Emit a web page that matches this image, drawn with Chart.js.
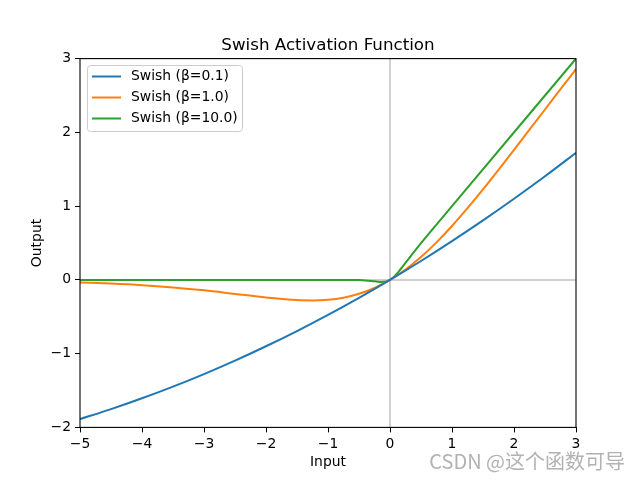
<!DOCTYPE html>
<html><head><meta charset="utf-8">
<script src="https://cdn.jsdelivr.net/npm/chart.js"></script>
<style>html,body{margin:0;padding:0;background:#fff}</style>
</head><body>
<canvas id="c" width="640" height="480"></canvas>
<script>
const chartTitle = 'Swish Activation Function';
const xLabel = 'Input';
const yLabel = 'Output';
const seriesLabels = ['Swish (\u03b2=0.1)', 'Swish (\u03b2=1.0)', 'Swish (\u03b2=10.0)'];
const xTicks = [-5, -4, -3, -2, -1, 0, 1, 2, 3];
const yTicks = [-2, -1, 0, 1, 2, 3];

const xBeta01 = [-5, -4.5, -4, -3.5, -3, -2.5, -2, -1.5, -1, -0.5, 0, 0.5, 1, 1.5, 2, 2.5, 3];
const yBeta01 = [-1.888, -1.752, -1.605, -1.447, -1.277, -1.095, -0.900, -0.694, -0.475, -0.244, 0, 0.256, 0.525, 0.806, 1.100, 1.405, 1.723];

const xBeta1 = [-5, -4.5, -4, -3.5, -3, -2.5, -2, -1.5, -1.25, -1, -0.75, -0.5, -0.25, 0, 0.25, 0.5, 0.75, 1, 1.25, 1.5, 1.75, 2, 2.25, 2.5, 2.75, 3];
const yBeta1 = [-0.034, -0.050, -0.072, -0.103, -0.142, -0.190, -0.238, -0.274, -0.278, -0.269, -0.241, -0.189, -0.110, 0, 0.141, 0.311, 0.509, 0.731, 0.972, 1.226, 1.491, 1.762, 2.036, 2.310, 2.585, 2.858];

const xBeta10 = [-5, -1, -0.75, -0.5, -0.4, -0.3, -0.2, -0.15, -0.1, -0.05, 0, 0.05, 0.1, 0.15, 0.2, 0.3, 0.4, 0.5, 0.75, 1, 3];
const yBeta10 = [0, 0, -0.0004, -0.0033, -0.0072, -0.0142, -0.0238, -0.0274, -0.0269, -0.0189, 0, 0.0311, 0.0731, 0.1226, 0.1762, 0.2858, 0.3928, 0.4967, 0.7496, 1.0, 3.0];

const colors = ['#1f77b4', '#ff7f0e', '#2ca02c'];
const FONT = '"DejaVu Sans", sans-serif';

function pts(xs, ys) { return xs.map((x, i) => ({x: x, y: ys[i]})); }
function fmt(v) { return v < 0 ? '\u2212' + Math.abs(v) : String(v); }

const decor = {
  id: 'decor',
  beforeDatasetsDraw(chart) {
    const {ctx, chartArea: a, scales: {x, y}} = chart;
    ctx.save();
    ctx.strokeStyle = '#d0d0d0';
    ctx.lineWidth = 2;
    const px = x.getPixelForValue(0), py = y.getPixelForValue(0);
    ctx.beginPath();
    ctx.moveTo(a.left, py); ctx.lineTo(a.right, py);
    ctx.moveTo(px, a.top); ctx.lineTo(px, a.bottom);
    ctx.stroke();
    ctx.restore();
  },
  afterDraw(chart) {
    const {ctx, chartArea: a} = chart;
    ctx.save();
    // spines
    ctx.strokeStyle = '#000';
    ctx.lineWidth = 1.1;
    ctx.strokeRect(a.left, a.top, a.right - a.left, a.bottom - a.top);
    // title
    ctx.fillStyle = '#000';
    ctx.font = '16.7px ' + FONT;
    ctx.textAlign = 'center';
    ctx.textBaseline = 'alphabetic';
    ctx.fillText(chartTitle, (a.left + a.right) / 2, 49.5);
    // axis labels
    ctx.font = '13.9px ' + FONT;
    ctx.textBaseline = 'middle';
    ctx.fillText(xLabel, (a.left + a.right) / 2, 462);
    ctx.save();
    ctx.translate(37, (a.top + a.bottom) / 2);
    ctx.rotate(-Math.PI / 2);
    ctx.fillText(yLabel, 0, 0);
    ctx.restore();
    // legend
    const lx = 87.5, ly = 65.5, lw = 155, lh = 66, r = 3;
    ctx.beginPath();
    ctx.moveTo(lx + r, ly);
    ctx.arcTo(lx + lw, ly, lx + lw, ly + lh, r);
    ctx.arcTo(lx + lw, ly + lh, lx, ly + lh, r);
    ctx.arcTo(lx, ly + lh, lx, ly, r);
    ctx.arcTo(lx, ly, lx + lw, ly, r);
    ctx.closePath();
    ctx.fillStyle = 'rgba(255,255,255,0.8)';
    ctx.fill();
    ctx.strokeStyle = '#cccccc';
    ctx.lineWidth = 1;
    ctx.stroke();
    chart.data.datasets.forEach((ds, i) => {
      const yy = 76.5 + i * 21;
      ctx.strokeStyle = ds.borderColor;
      ctx.lineWidth = 2;
      ctx.beginPath();
      ctx.moveTo(92, yy); ctx.lineTo(121, yy);
      ctx.stroke();
      ctx.fillStyle = '#000';
      ctx.textAlign = 'left';
      ctx.textBaseline = 'middle';
      ctx.font = '13.9px ' + FONT;
      ctx.fillText(ds.label, 131, yy);
    });
    // watermark
    ctx.font = '20px "Noto Sans CJK SC", sans-serif';
    ctx.fillStyle = 'rgba(165,165,165,0.85)';
    ctx.textAlign = 'right';
    ctx.textBaseline = 'middle';
    ctx.fillText('CSDN @\u8fd9\u4e2a\u51fd\u6570\u53ef\u5bfc', 625, 461);
    ctx.restore();
  }
};

new Chart(document.getElementById('c'), {
  type: 'line',
  data: {
    datasets: [
      {label: seriesLabels[0], data: pts(xBeta01, yBeta01), borderColor: colors[0]},
      {label: seriesLabels[1], data: pts(xBeta1, yBeta1), borderColor: colors[1]},
      {label: seriesLabels[2], data: pts(xBeta10, yBeta10), borderColor: colors[2]}
    ]
  },
  options: {
    responsive: false,
    animation: false,
    devicePixelRatio: 1,
    layout: {padding: {top: 58.6, right: 64, left: 0, bottom: 0}},
    elements: {
      point: {radius: 0},
      line: {borderWidth: 2, cubicInterpolationMode: 'monotone', fill: false}
    },
    plugins: {legend: {display: false}, title: {display: false}, tooltip: {enabled: false}},
    scales: {
      x: {
        type: 'linear', min: -5, max: 3,
        afterBuildTicks: s => { s.ticks = xTicks.map(v => ({value: v})); },
        afterFit: s => { s.height = 52.6; },
        grid: {display: true, drawOnChartArea: false, drawTicks: true, tickLength: 5, color: '#000', lineWidth: 1},
        border: {display: false},
        ticks: {padding: 4, color: '#000', font: {family: FONT, size: 13.9}, maxRotation: 0, autoSkip: false, callback: v => fmt(v)}
      },
      y: {
        type: 'linear', min: -2, max: 3,
        afterBuildTicks: s => { s.ticks = yTicks.map(v => ({value: v})); },
        afterFit: s => { s.width = 80; },
        grid: {display: true, drawOnChartArea: false, drawTicks: true, tickLength: 5, color: '#000', lineWidth: 1},
        border: {display: false},
        ticks: {padding: 4, color: '#000', font: {family: FONT, size: 13.9}, autoSkip: false, callback: v => fmt(v)}
      }
    }
  },
  plugins: [decor]
});
</script>
</body></html>
